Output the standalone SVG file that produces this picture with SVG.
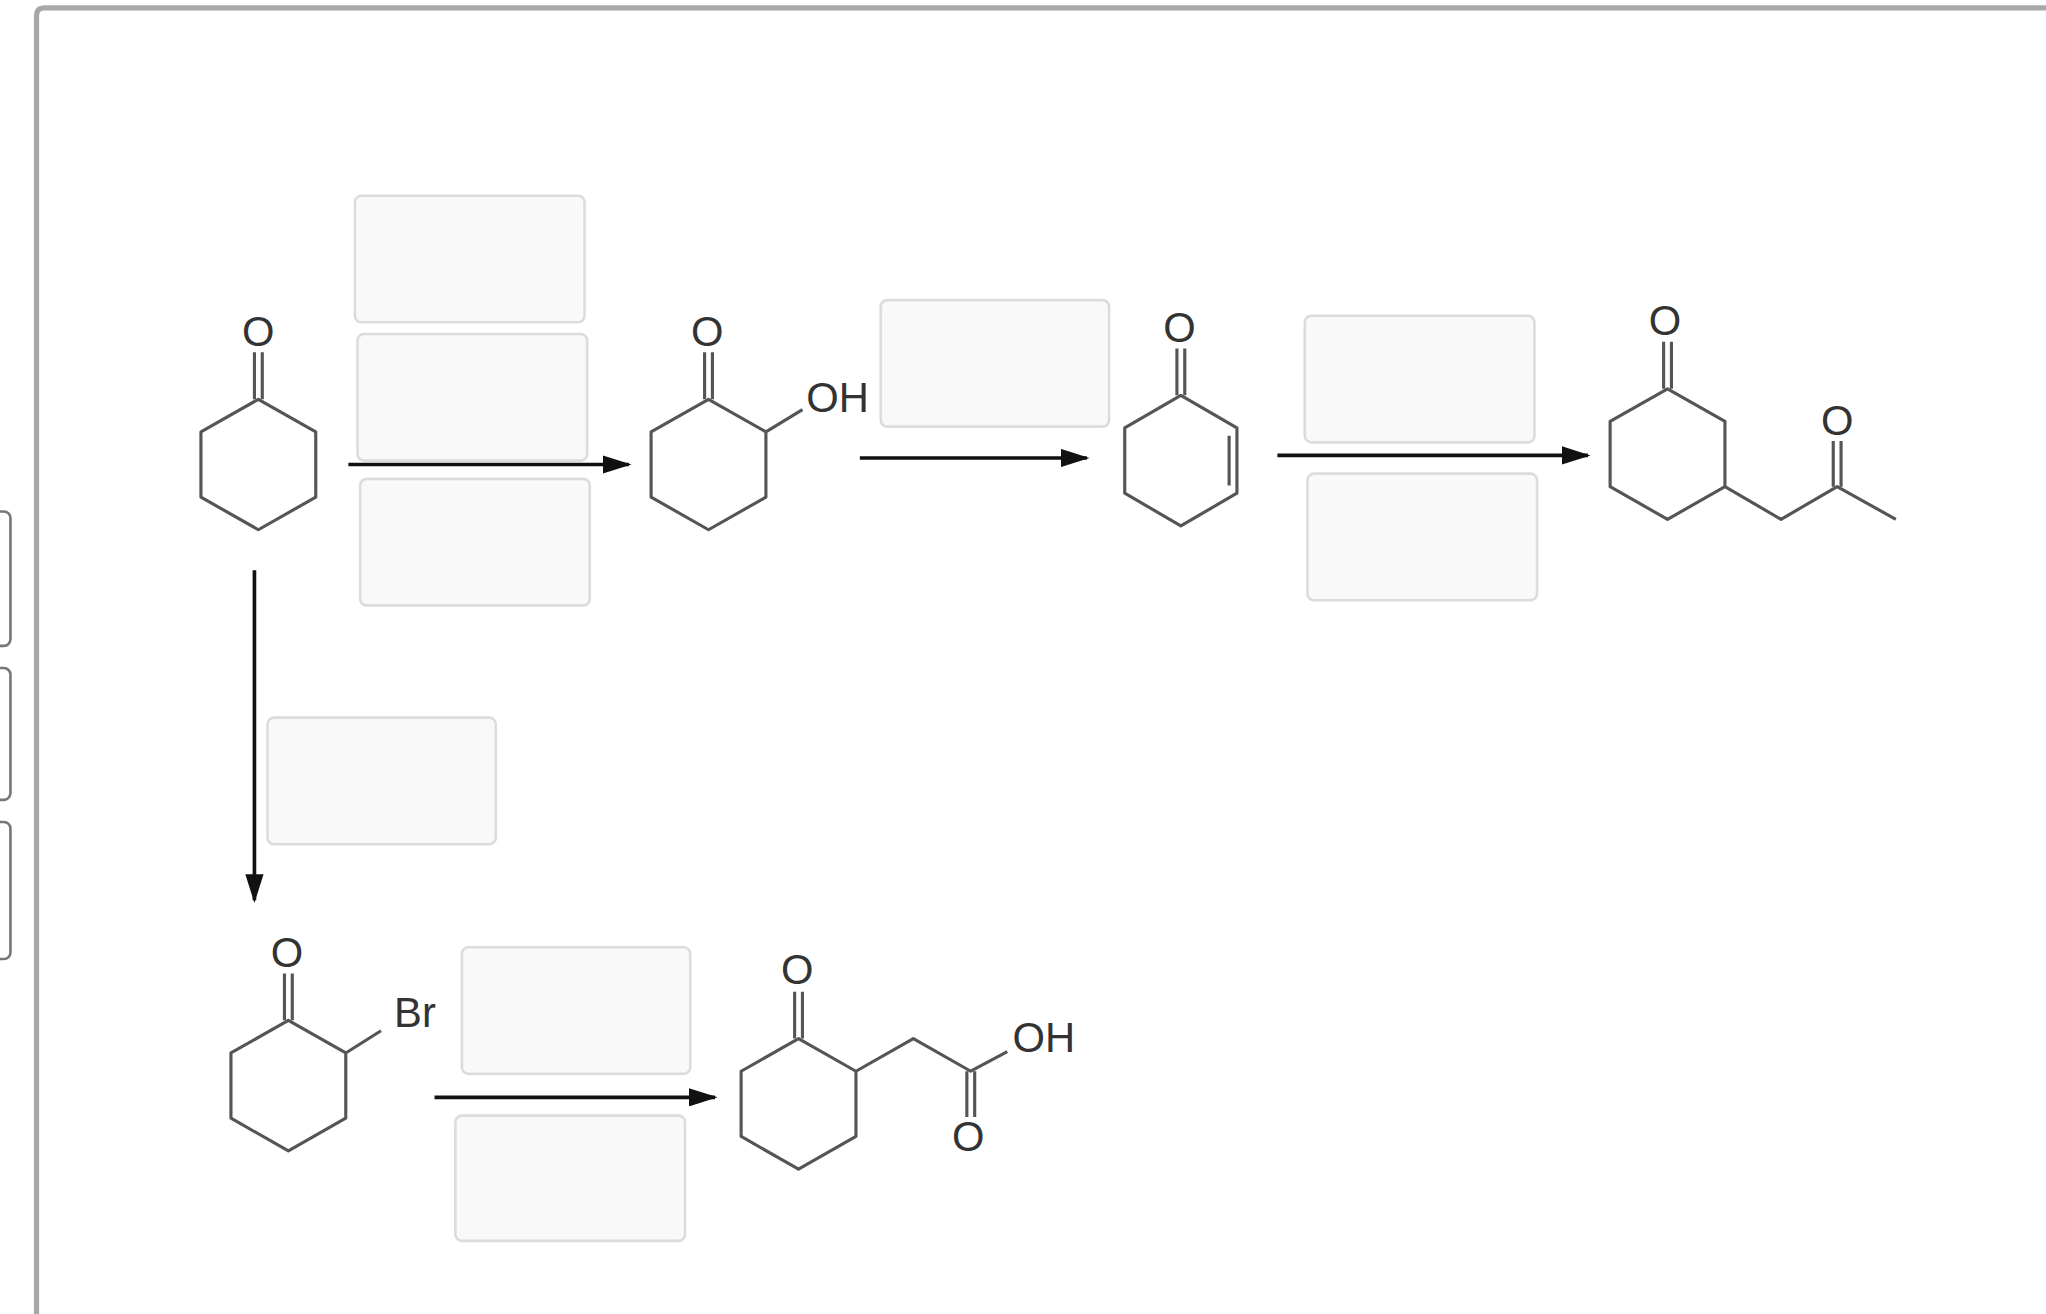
<svg xmlns="http://www.w3.org/2000/svg" width="2046" height="1314" viewBox="0 0 2046 1314">
<style>
.box{fill:#f9f9f9;stroke:#dcdcdc;stroke-width:2}
.bond{fill:none;stroke:#555;stroke-width:2.4;stroke-linejoin:round}
.arr{stroke:#111;stroke-width:2.8;fill:none}
.t{font-family:"Liberation Sans",Arial,sans-serif;font-size:32px;fill:#333;text-anchor:middle;dominant-baseline:central}
</style>
<defs><marker id="ah" markerWidth="10" markerHeight="8" refX="9" refY="4" orient="auto" markerUnits="userSpaceOnUse" viewBox="0 0 10 8"><path d="M0,0L10,4L0,8z" fill="#111"/></marker>
<marker id="ah2" markerWidth="22" markerHeight="14" refX="20" refY="7" orient="auto" markerUnits="userSpaceOnUse" viewBox="0 0 22 14"><path d="M0,0L22,7L0,14z" fill="#111"/></marker></defs>
<rect width="2046" height="1314" fill="#fff"/>
<g transform="scale(1.3048)">
<g id="frame">
<path d="M28,1010 V12 Q28,6 34,6 H1570" fill="none" stroke="#a8a8a8" stroke-width="4"/>
<rect x="-10" y="392" width="18" height="103" rx="5" fill="#fff" stroke="#777" stroke-width="2"/>
<rect x="-10" y="512" width="18" height="101" rx="5" fill="#fff" stroke="#777" stroke-width="2"/>
<rect x="-10" y="630" width="18" height="105" rx="5" fill="#fff" stroke="#777" stroke-width="2"/>
</g>
<g id="boxes">
<rect id="b1" class="box" x="272" y="150" width="176" height="97" rx="5"/>
<rect id="b2" class="box" x="274" y="256" width="176" height="97" rx="5"/>
<rect id="b3" class="box" x="276" y="367" width="176" height="97" rx="5"/>
<rect id="b4" class="box" x="675" y="230" width="175" height="97" rx="5"/>
<rect id="b5" class="box" x="1000" y="242" width="176" height="97" rx="5"/>
<rect id="b6" class="box" x="1002" y="363" width="176" height="97" rx="5"/>
<rect id="b7" class="box" x="205" y="550" width="175" height="97" rx="5"/>
<rect id="b8" class="box" x="354" y="726" width="175" height="97" rx="5"/>
<rect id="b9" class="box" x="349" y="855" width="176" height="96" rx="5"/>
</g>
<g id="connectors">
<line class="arr" x1="267" y1="356" x2="482" y2="356" marker-end="url(#ah2)" stroke-width="2.2"/>
<line class="arr" x1="659" y1="351" x2="833" y2="351" marker-end="url(#ah2)" stroke-width="2.2"/>
<line class="arr" x1="979" y1="349" x2="1217" y2="349" marker-end="url(#ah2)" stroke-width="2.2"/>
<line class="arr" x1="195" y1="437" x2="195" y2="690" marker-end="url(#ah2)" stroke-width="2.2"/>
<line class="arr" x1="333" y1="841" x2="548" y2="841" marker-end="url(#ah2)" stroke-width="2.2"/>
</g>
<g id="m1">
<path class="bond" d="M198,306 L242,331 L242,381 L198,406 L154,381 L154,331 Z"/>
<path class="bond" d="M195,306 V270 M201,306 V270"/>
<text class="t" x="198" y="254">O</text>
</g>
<g id="m2">
<path class="bond" d="M543,306 L587,331 L587,381 L543,406 L499,381 L499,331 Z M587,331 L615,314"/>
<path class="bond" d="M540,306 V270 M546,306 V270"/>
<text class="t" x="542" y="254">O</text>
<text class="t" x="642" y="305">OH</text>
</g>
<g id="m3">
<path class="bond" d="M905,303 L948,328 L948,378 L905,403 L862,378 L862,328 Z M942,334 V372"/>
<path class="bond" d="M902,303 V267 M908,303 V267"/>
<text class="t" x="904" y="251">O</text>
</g>
<g id="m4">
<path class="bond" d="M1278,298 L1322,323 L1322,373 L1278,398 L1234,373 L1234,323 Z M1322,373 L1365,398 L1408,373 L1453,398"/>
<path class="bond" d="M1275,298 V262 M1281,298 V262 M1405,373 V338 M1411,373 V338"/>
<text class="t" x="1276" y="246">O</text>
<text class="t" x="1408" y="322">O</text>
</g>
<g id="m5">
<path class="bond" d="M221,782 L265,807 L265,857 L221,882 L177,857 L177,807 Z M265,807 L292,790"/>
<path class="bond" d="M218,782 V746 M224,782 V746"/>
<text class="t" x="220" y="730">O</text>
<text class="t" x="318" y="776">Br</text>
</g>
<g id="m6">
<path class="bond" d="M612,796 L656,821 L656,871 L612,896 L568,871 L568,821 Z M656,821 L700,796 L744,821 L772,806"/>
<path class="bond" d="M609,796 V760 M615,796 V760 M741,821 V856 M747,821 V856"/>
<text class="t" x="611" y="743">O</text>
<text class="t" x="800" y="795">OH</text>
<text class="t" x="742" y="871">O</text>
</g>
</g>
</svg>
